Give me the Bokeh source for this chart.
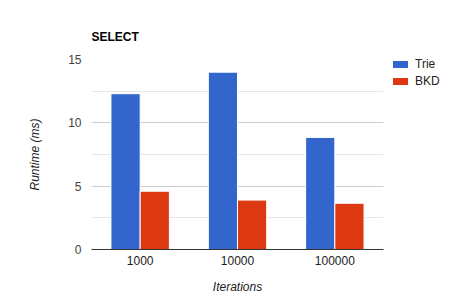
from bokeh.plotting import figure
from bokeh.models import ColumnDataSource, Legend, LegendItem, SingleIntervalTicker, Range1d, FactorRange
from bokeh.transform import dodge
from bokeh.embed import file_html
from bokeh.resources import INLINE

categories = ["1000", "10000", "100000"]
trie = [12.3, 14.0, 8.85]
bkd = [4.6, 3.9, 3.65]
series_names = ["Trie", "BKD"]
colors = ["#3366CC", "#DC3912"]

src = ColumnDataSource(dict(cat=categories, trie=trie, bkd=bkd))

FONT = "Liberation Sans"
p = figure(frame_width=292, frame_height=190, x_range=FactorRange(*categories), y_range=Range1d(0, 15),
           output_backend="svg", toolbar_location=None, title="SELECT",
           min_border_left=91, min_border_right=0, min_border_top=59, min_border_bottom=59)
p.title.text_font = FONT
p.title.text_font_size = "12px"
p.title.text_font_style = "bold"
p.title.text_color = "#000000"
p.title.standoff = 31
p.outline_line_color = None

r1 = p.vbar(x=dodge("cat", -0.15, range=p.x_range), top="trie", width=0.3, source=src,
            fill_color=colors[0], line_color="white", line_width=1)
r2 = p.vbar(x=dodge("cat", 0.15, range=p.x_range), top="bkd", width=0.3, source=src,
            fill_color=colors[1], line_color="white", line_width=1)

p.yaxis.ticker = SingleIntervalTicker(interval=5, num_minor_ticks=2)
p.ygrid.grid_line_color = "#cccccc"
p.ygrid.minor_grid_line_color = "#e6e6e6"
p.xgrid.grid_line_color = None
p.yaxis.axis_line_color = None
p.yaxis.major_tick_line_color = None
p.yaxis.minor_tick_line_color = None
p.yaxis.major_label_text_font = FONT
p.yaxis.major_label_text_font_size = "12px"
p.yaxis.major_label_text_color = "#444444"
p.yaxis.major_label_standoff = 4
p.yaxis.axis_label = "Runtime (ms)"
p.yaxis.axis_label_text_font = FONT
p.yaxis.axis_label_text_font_size = "12px"
p.yaxis.axis_label_text_font_style = "italic"
p.yaxis.axis_label_text_color = "#222222"
p.yaxis.axis_label_standoff = 23

p.xaxis.axis_line_color = "#333333"
p.xaxis.axis_line_width = 1
p.xaxis.major_tick_line_color = None
p.xaxis.minor_tick_line_color = None
p.xaxis.major_label_text_font = FONT
p.xaxis.major_label_text_font_size = "12px"
p.xaxis.major_label_text_color = "#222222"
p.xaxis.major_label_standoff = 0
p.xaxis.axis_label = "Iterations"
p.xaxis.axis_label_text_font = FONT
p.xaxis.axis_label_text_font_size = "12px"
p.xaxis.axis_label_text_font_style = "italic"
p.xaxis.axis_label_text_color = "#222222"
p.xaxis.axis_label_standoff = 12

legend = Legend(items=[LegendItem(label=series_names[0], renderers=[r1]),
                       LegendItem(label=series_names[1], renderers=[r2])],
                location=(7, 161), border_line_color=None, background_fill_alpha=0,
                label_text_font=FONT, label_text_font_size="12px", label_text_color="#222222",
                glyph_width=20, glyph_height=10, spacing=3, label_standoff=5,
                padding=0, margin=0)
p.add_layout(legend, "right")

open("out.html", "w").write(file_html(p, INLINE))
